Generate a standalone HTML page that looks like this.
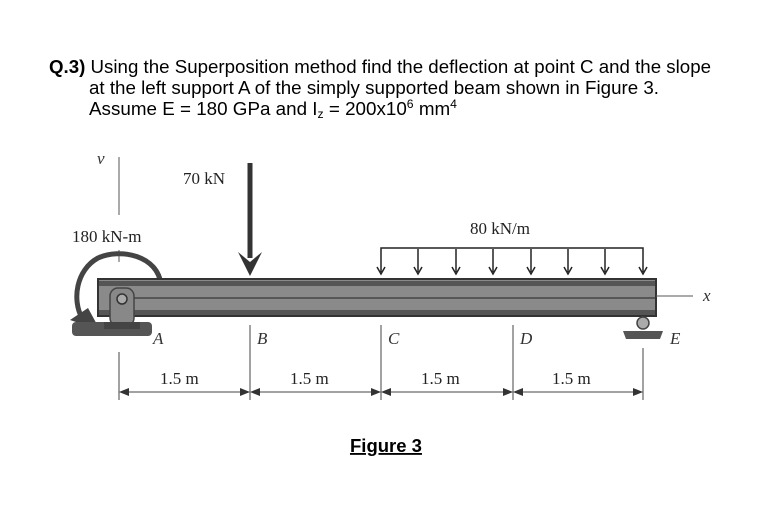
<!DOCTYPE html>
<html><head><meta charset="utf-8"><style>
html,body{margin:0;padding:0;background:#fff;}
svg{display:block}
.t{font-family:"Liberation Sans",Arial,sans-serif;font-size:18.5px;fill:#000}
.s{font-family:"Liberation Serif",serif;font-size:17px;fill:#222}
.i{font-family:"Liberation Serif",serif;font-size:17px;font-style:italic;fill:#333}
</style></head><body>
<svg width="770" height="507" viewBox="0 0 770 507" xmlns="http://www.w3.org/2000/svg">
<rect width="770" height="507" fill="#fff"/>
<defs>
<marker id="ah" markerWidth="10" markerHeight="8" refX="9" refY="4" orient="auto" markerUnits="userSpaceOnUse"><path d="M0,0 L10,4 L0,8 Z" fill="#333"/></marker>
</defs>
<text class="t" x="49" y="73" textLength="662" lengthAdjust="spacingAndGlyphs"><tspan font-weight="bold">Q.3)</tspan> Using the Superposition method find the deflection at point C and the slope</text>
<text class="t" x="89" y="94" textLength="570" lengthAdjust="spacingAndGlyphs">at the left support A of the simply supported beam shown in Figure 3.</text>
<text class="t" x="89" y="115" textLength="368" lengthAdjust="spacingAndGlyphs">Assume   E = 180 GPa and I<tspan font-size="12" dy="3">z</tspan><tspan dy="-3"> = 200x10</tspan><tspan font-size="12" dy="-7">6</tspan><tspan dy="7"> mm</tspan><tspan font-size="12" dy="-7">4</tspan></text>

<!-- v axis -->
<text class="i" x="97" y="164" font-size="14">v</text>
<line x1="119" y1="157" x2="119" y2="215" stroke="#555" stroke-width="1"/>
<line x1="119" y1="250" x2="119" y2="262" stroke="#555" stroke-width="1"/>
<text class="s" x="72" y="242">180 kN-m</text>
<!-- moment arc -->
<path d="M161,285 C158,255 120,248 98,258 C76,270 72,300 82,318" fill="none" stroke="#444" stroke-width="5"/>
<path d="M70,320 L88,308 L100,330 Z" fill="#444"/>
<rect x="72" y="322" width="80" height="14" rx="4" fill="#555"/>
<!-- 70kN -->
<text class="s" x="183" y="184">70 kN</text>
<line x1="250" y1="163" x2="250" y2="258" stroke="#333" stroke-width="5"/>
<path d="M238,252 L250,276 L262,252 L250,262 Z" fill="#333"/>
<!-- distributed -->
<text class="s" x="470" y="234">80 kN/m</text>
<polyline points="381,272 381,248 643,248 643,272" fill="none" stroke="#222" stroke-width="1.5"/>
<g stroke="#222" stroke-width="1.5" fill="none">
<line x1="418" y1="249" x2="418" y2="272"/><line x1="456" y1="249" x2="456" y2="272"/><line x1="493" y1="249" x2="493" y2="272"/><line x1="531" y1="249" x2="531" y2="272"/><line x1="568" y1="249" x2="568" y2="272"/><line x1="605" y1="249" x2="605" y2="272"/>
<path d="M377,267 L381,274 L385,267 M414,267 L418,274 L422,267 M452,267 L456,274 L460,267 M489,267 L493,274 L497,267 M527,267 L531,274 L535,267 M564,267 L568,274 L572,267 M601,267 L605,274 L609,267 M639,267 L643,274 L647,267"/>
</g>
<!-- beam -->
<rect x="98" y="279" width="558" height="37" fill="#8a8a8a" stroke="#333" stroke-width="2"/>
<rect x="99" y="281" width="556" height="5" fill="#555"/>
<line x1="130" y1="298" x2="655" y2="298" stroke="#444" stroke-width="1.5"/>
<rect x="99" y="310" width="556" height="5" fill="#555"/>
<line x1="656" y1="296" x2="693" y2="296" stroke="#555" stroke-width="1"/>
<text class="i" x="703" y="301">x</text>
<!-- pin A -->
<rect x="110" y="288" width="24" height="38" rx="8" fill="#888" stroke="#444" stroke-width="1.5"/>
<circle cx="122" cy="299" r="5" fill="#aaa" stroke="#333" stroke-width="1.5"/>
<rect x="104" y="322" width="36" height="7" fill="#444"/>
<text class="i" x="153" y="344">A</text>
<!-- roller E -->
<circle cx="643" cy="323" r="6" fill="#aaa" stroke="#444" stroke-width="1.5"/>
<path d="M623,331 L663,331 L660,339 L626,339 Z" fill="#555"/>
<text class="i" x="670" y="344">E</text>
<!-- ticks -->
<g stroke="#444" stroke-width="1">
<line x1="119" y1="352" x2="119" y2="400"/>
<line x1="250" y1="325" x2="250" y2="400"/>
<line x1="381" y1="325" x2="381" y2="400"/>
<line x1="513" y1="325" x2="513" y2="400"/>
<line x1="643" y1="348" x2="643" y2="400"/>
</g>
<text class="i" x="257" y="344">B</text>
<text class="i" x="388" y="344">C</text>
<text class="i" x="520" y="344">D</text>
<!-- dims -->
<g stroke="#444" stroke-width="1" marker-end="url(#ah)">
<line x1="185" y1="392" x2="120" y2="392"/><line x1="185" y1="392" x2="249" y2="392"/>
<line x1="316" y1="392" x2="251" y2="392"/><line x1="316" y1="392" x2="380" y2="392"/>
<line x1="447" y1="392" x2="382" y2="392"/><line x1="447" y1="392" x2="512" y2="392"/>
<line x1="578" y1="392" x2="514" y2="392"/><line x1="578" y1="392" x2="642" y2="392"/>
</g>
<text class="s" x="160" y="384">1.5 m</text>
<text class="s" x="290" y="384">1.5 m</text>
<text class="s" x="421" y="384">1.5 m</text>
<text class="s" x="552" y="384">1.5 m</text>
<text class="t" x="350" y="452" font-size="16.5" font-weight="bold" text-decoration="underline">Figure 3</text>
</svg>
</body></html>
